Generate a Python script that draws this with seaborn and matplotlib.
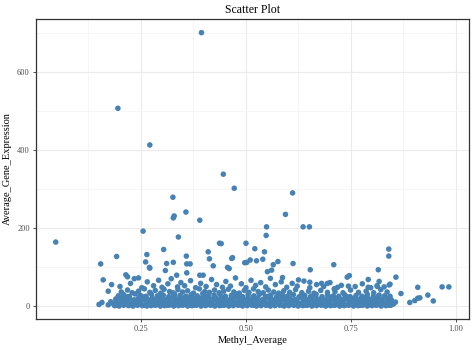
import matplotlib
matplotlib.use("Agg")
import matplotlib.pyplot as plt
import seaborn as sns
import pandas as pd
from matplotlib.ticker import FixedLocator

# ---------------- data ----------------
outliers = [(0.394, 701), (0.195, 507), (0.271, 413), (0.446, 338), (0.472, 302),
            (0.326, 279), (0.611, 290), (0.047, 164), (0.357, 241), (0.329, 231),
            (0.327, 226), (0.390, 220), (0.255, 192), (0.339, 177), (0.304, 145),
            (0.264, 132), (0.192, 127), (0.154, 108), (0.410, 139), (0.437, 161),
            (0.358, 128), (0.261, 113), (0.311, 109), (0.327, 112), (0.359, 108),
            (0.367, 108), (0.271, 97), (0.308, 91), (0.413, 121), (0.594, 235),
            (0.636, 203), (0.651, 203), (0.549, 203), (0.548, 181), (0.441, 160),
            (0.500, 161), (0.521, 147), (0.544, 139), (0.468, 124), (0.497, 111),
            (0.502, 112), (0.510, 118), (0.525, 116), (0.540, 120), (0.576, 114),
            (0.612, 109), (0.565, 106), (0.561, 92), (0.551, 88), (0.653, 93),
            (0.709, 106), (0.456, 99), (0.460, 96), (0.840, 146), (0.840, 128),
            (0.815, 93), (0.270, 99), (0.422, 103), (0.466, 122)]

tail_points = [(0.909, 48), (0.967, 49), (0.983, 49), (0.933, 28), (0.869, 32),
               (0.890, 9), (0.902, 14), (0.909, 20), (0.914, 21), (0.946, 13),
               (0.150, 4), (0.157, 9), (0.160, 67), (0.180, 55), (0.172, 38)]

scatter_mid = [(0.214, 80), (0.218, 75), (0.234, 70), (0.244, 72), (0.335, 79),
               (0.359, 85), (0.390, 79), (0.398, 79), (0.741, 74), (0.746, 78),
               (0.791, 68), (0.817, 63), (0.841, 54), (0.857, 74), (0.587, 73),
               (0.625, 67), (0.652, 61), (0.680, 58), (0.694, 58), (0.710, 44),
               (0.744, 51), (0.791, 48), (0.813, 50), (0.843, 56),
               (0.200, 50), (0.225, 58), (0.252, 47), (0.265, 62), (0.280, 52),
               (0.292, 66), (0.300, 48), (0.314, 57), (0.322, 70), (0.337, 49),
               (0.345, 60), (0.354, 52), (0.368, 65), (0.380, 47), (0.392, 58),
               (0.405, 50), (0.418, 68), (0.430, 55), (0.444, 48), (0.452, 63),
               (0.463, 51), (0.475, 72), (0.489, 57), (0.500, 47), (0.512, 66),
               (0.523, 53), (0.535, 60), (0.547, 49), (0.558, 71), (0.570, 55),
               (0.584, 62), (0.597, 48), (0.610, 58), (0.622, 51), (0.638, 64),
               (0.652, 47), (0.668, 55), (0.685, 50), (0.700, 60), (0.718, 48),
               (0.727, 53), (0.760, 50), (0.777, 57), (0.797, 47), (0.812, 52),
               (0.829, 49)]

band_upper = [(0.203, 36), (0.218, 41), (0.229, 34), (0.244, 38), (0.258, 44),
              (0.271, 35), (0.284, 40), (0.297, 33), (0.305, 43), (0.318, 37),
              (0.326, 34), (0.338, 42), (0.349, 36), (0.361, 39), (0.375, 33),
              (0.389, 44), (0.402, 37), (0.413, 35), (0.425, 41), (0.436, 34),
              (0.447, 38), (0.458, 43), (0.471, 36), (0.484, 33), (0.496, 40),
              (0.507, 35), (0.518, 44), (0.529, 37), (0.541, 34), (0.553, 41),
              (0.566, 36), (0.578, 33), (0.590, 39), (0.604, 35), (0.618, 42),
              (0.633, 34), (0.649, 38), (0.662, 33), (0.678, 40), (0.694, 35),
              (0.712, 37), (0.731, 34), (0.749, 41), (0.768, 35), (0.786, 38),
              (0.804, 34), (0.821, 42), (0.836, 36)]

band_top = [(0.196, 26), (0.209, 29), (0.222, 24), (0.236, 31), (0.249, 27),
            (0.262, 25), (0.275, 30), (0.289, 26), (0.303, 28), (0.316, 24),
            (0.330, 31), (0.343, 27), (0.357, 25), (0.370, 29), (0.384, 26),
            (0.397, 32), (0.411, 24), (0.424, 28), (0.438, 30), (0.451, 25),
            (0.465, 27), (0.478, 31), (0.492, 24), (0.505, 29), (0.519, 26),
            (0.532, 30), (0.546, 25), (0.559, 28), (0.573, 24), (0.586, 31),
            (0.600, 26), (0.613, 29), (0.627, 24), (0.640, 27), (0.654, 25),
            (0.667, 30), (0.681, 24), (0.694, 28), (0.708, 26), (0.721, 25),
            (0.735, 29), (0.748, 24), (0.762, 27), (0.776, 25), (0.789, 30),
            (0.803, 24), (0.817, 28), (0.830, 26), (0.843, 25)]

band_high = [(0.190, 18), (0.201, 21), (0.212, 17), (0.223, 20), (0.234, 16),
             (0.245, 22), (0.256, 19), (0.266, 17), (0.277, 21), (0.288, 18),
             (0.299, 20), (0.309, 16), (0.320, 22), (0.331, 19), (0.342, 17),
             (0.352, 21), (0.363, 18), (0.374, 20), (0.385, 16), (0.396, 22),
             (0.406, 19), (0.417, 17), (0.428, 21), (0.439, 18), (0.450, 20),
             (0.461, 16), (0.472, 22), (0.483, 19), (0.494, 17), (0.505, 21),
             (0.516, 18), (0.527, 20), (0.538, 16), (0.549, 22), (0.560, 19),
             (0.571, 17), (0.582, 21), (0.593, 18), (0.604, 20), (0.615, 16),
             (0.626, 22), (0.637, 19), (0.648, 17), (0.659, 21), (0.670, 18),
             (0.681, 20), (0.692, 16), (0.703, 22), (0.714, 19), (0.725, 17),
             (0.736, 21), (0.747, 18), (0.758, 20), (0.769, 16), (0.780, 22),
             (0.791, 19), (0.802, 17), (0.813, 21), (0.824, 18), (0.835, 20),
             (0.846, 16)]

band_mid = [(0.178, 11), (0.189, 9), (0.199, 13), (0.210, 10), (0.220, 14),
            (0.231, 9), (0.242, 12), (0.253, 15), (0.263, 10), (0.275, 13),
            (0.286, 9), (0.296, 14), (0.307, 11), (0.317, 12), (0.329, 10),
            (0.340, 15), (0.350, 9), (0.361, 13), (0.372, 11), (0.382, 14),
            (0.393, 10), (0.404, 12), (0.415, 9), (0.427, 15), (0.437, 11),
            (0.448, 13), (0.459, 10), (0.470, 14), (0.481, 9), (0.492, 12),
            (0.503, 15), (0.514, 10), (0.525, 13), (0.537, 11), (0.547, 9),
            (0.558, 14), (0.569, 12), (0.581, 10), (0.591, 15), (0.602, 11),
            (0.613, 13), (0.624, 9), (0.636, 12), (0.647, 14), (0.657, 10),
            (0.668, 13), (0.679, 11), (0.691, 9), (0.701, 14), (0.712, 12),
            (0.723, 10), (0.734, 15), (0.746, 11), (0.757, 13), (0.768, 9),
            (0.779, 12), (0.790, 14), (0.801, 10), (0.812, 13), (0.822, 11),
            (0.833, 9), (0.845, 12), (0.856, 10)]

band_low = [(0.172, 3), (0.184, 6), (0.193, 2), (0.205, 5), (0.214, 7),
            (0.226, 3), (0.237, 4), (0.248, 8), (0.259, 2), (0.268, 6),
            (0.281, 3), (0.290, 5), (0.302, 7), (0.311, 2), (0.323, 4),
            (0.334, 6), (0.346, 3), (0.355, 8), (0.367, 5), (0.376, 2),
            (0.388, 6), (0.399, 4), (0.410, 7), (0.421, 3), (0.433, 5),
            (0.442, 2), (0.454, 6), (0.465, 4), (0.477, 8), (0.486, 3),
            (0.498, 5), (0.509, 7), (0.520, 2), (0.531, 4), (0.543, 6),
            (0.552, 3), (0.564, 5), (0.575, 8), (0.587, 2), (0.596, 4),
            (0.608, 7), (0.619, 3), (0.630, 6), (0.641, 2), (0.653, 5),
            (0.662, 4), (0.674, 7), (0.685, 3), (0.697, 6), (0.706, 2),
            (0.718, 5), (0.729, 8), (0.740, 3), (0.751, 4), (0.763, 6),
            (0.772, 2), (0.784, 5), (0.795, 7), (0.807, 3), (0.816, 4),
            (0.828, 6), (0.839, 2), (0.851, 5)]

band_base = [(0.187, 1), (0.198, 0), (0.209, 2), (0.220, 1), (0.231, 0),
             (0.242, 2), (0.253, 1), (0.264, 0), (0.274, 1), (0.285, 2),
             (0.296, 0), (0.306, 1), (0.317, 2), (0.328, 0), (0.339, 1),
             (0.350, 2), (0.361, 0), (0.371, 1), (0.382, 2), (0.393, 0),
             (0.404, 1), (0.415, 2), (0.426, 0), (0.437, 1), (0.448, 2),
             (0.459, 0), (0.470, 1), (0.481, 2), (0.492, 0), (0.503, 1),
             (0.514, 2), (0.525, 0), (0.536, 1), (0.547, 2), (0.558, 0),
             (0.569, 1), (0.580, 2), (0.591, 0), (0.602, 1), (0.613, 2),
             (0.624, 0), (0.635, 1), (0.646, 2), (0.657, 0), (0.668, 1),
             (0.679, 2), (0.690, 0), (0.701, 1), (0.712, 2), (0.723, 0),
             (0.734, 1), (0.745, 2), (0.756, 0), (0.767, 1), (0.778, 2),
             (0.789, 0), (0.800, 1), (0.811, 2), (0.822, 0), (0.833, 1),
             (0.845, 2)]

band_fill = [(0.195, 7), (0.207, 16), (0.219, 24), (0.232, 8), (0.244, 18),
             (0.257, 23), (0.269, 9), (0.282, 16), (0.294, 25), (0.306, 6),
             (0.319, 17), (0.331, 23), (0.344, 8), (0.356, 15), (0.368, 24),
             (0.381, 7), (0.393, 18), (0.405, 25), (0.418, 6), (0.430, 16),
             (0.443, 23), (0.455, 9), (0.467, 17), (0.480, 24), (0.492, 7),
             (0.505, 18), (0.517, 23), (0.529, 8), (0.542, 15), (0.554, 25),
             (0.566, 6), (0.579, 17), (0.591, 24), (0.604, 8), (0.616, 16),
             (0.628, 23), (0.641, 7), (0.653, 18), (0.665, 24), (0.678, 9),
             (0.690, 15), (0.703, 23), (0.715, 6), (0.727, 17), (0.740, 24),
             (0.752, 8), (0.765, 16), (0.777, 23), (0.789, 7), (0.802, 18),
             (0.814, 24), (0.826, 8), (0.838, 15)]

x_ticks = [0.25, 0.50, 0.75, 1.00]
x_tick_labels = ["0.25", "0.50", "0.75", "1.00"]
y_ticks = [0, 200, 400, 600]
y_tick_labels = ["0", "200", "400", "600"]

# ---------------- figure ----------------
sns.set_theme(style="white")
plt.rcParams['font.family'] = ['Liberation Serif', 'DejaVu Serif']

all_points = (band_base + band_low + band_mid + band_high + band_fill + band_top
              + band_upper + scatter_mid + tail_points + outliers)
df = pd.DataFrame(all_points, columns=["Methyl_Average", "Average_Gene_Expression"])

W, H = 474, 350
fig = plt.figure(figsize=(W / 100, H / 100), dpi=100)
ax = fig.add_axes([36 / W, 1 - 319 / H, (469 - 36) / W, (319 - 19) / H])

ax.set_xlim(0.0, 1.031)
ax.set_ylim(-33.3, 736)

ax.xaxis.set_major_locator(FixedLocator(x_ticks))
ax.xaxis.set_minor_locator(FixedLocator([0.125, 0.375, 0.625, 0.875]))
ax.yaxis.set_major_locator(FixedLocator(y_ticks))
ax.yaxis.set_minor_locator(FixedLocator([100, 300, 500, 700]))
ax.grid(which="major", color="#EBEBEB", linewidth=0.8)
ax.grid(which="minor", color="#F2F2F2", linewidth=0.45)
ax.set_axisbelow(True)

sns.scatterplot(data=df, x="Methyl_Average", y="Average_Gene_Expression",
                color="#4682B4", s=16, linewidth=0, edgecolor="none", ax=ax)

ax.set_xticks(x_ticks)
ax.set_xticklabels(x_tick_labels)
ax.set_yticks(y_ticks)
ax.set_yticklabels(y_tick_labels)
ax.tick_params(which="major", length=2.5, width=0.6, color="#333333",
               labelsize=6, labelcolor="#4D4D4D", pad=2, bottom=True, left=True)
ax.tick_params(which="minor", length=0)

for sp in ax.spines.values():
    sp.set_color("#333333")
    sp.set_linewidth(0.9)

ax.set_title("Scatter Plot", fontsize=8.5, pad=4, color="black")
ax.set_xlabel("Methyl_Average", fontsize=7.5, labelpad=2, color="black")
ax.set_ylabel("Average_Gene_Expression", fontsize=7.5, labelpad=4, color="black")

fig.savefig("out.png", dpi=100)
